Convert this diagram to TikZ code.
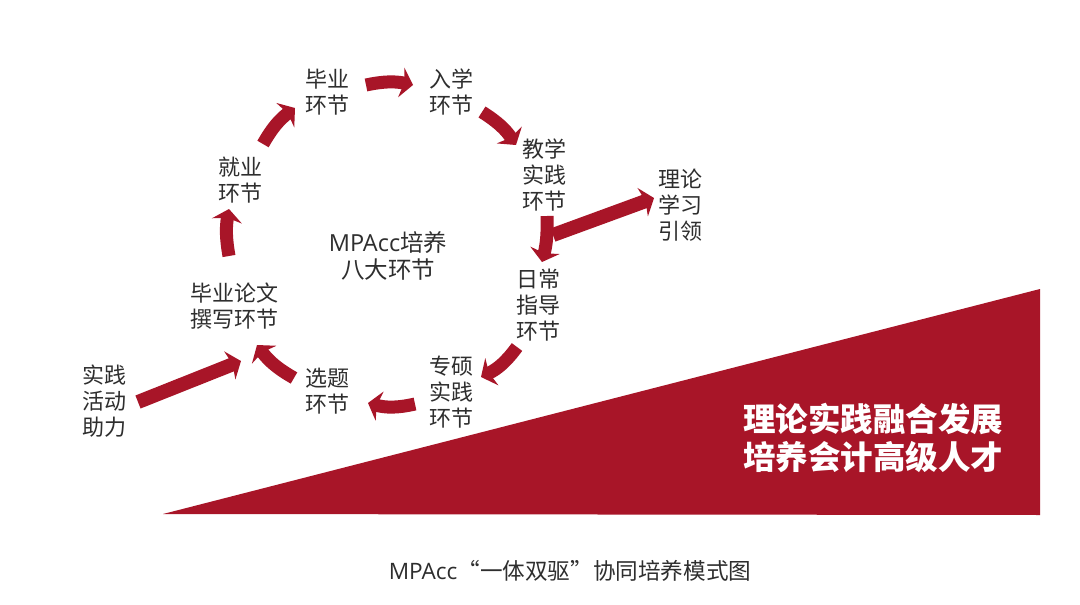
\documentclass[tikz,border=0pt]{standalone}
\usepackage{fontspec}
\setmainfont{Noto Sans CJK SC}
\newfontfamily\latinfont{Open Sans}
\usetikzlibrary{arrows.meta,calc}
\definecolor{brickred}{HTML}{A81528}
\definecolor{inktext}{HTML}{2E2E2E}
\tikzset{
 lbl/.style={align=center,font=\fontsize{22}{26.3}\selectfont,text=inktext,inner sep=0pt},
 flow/.style={draw=brickred,line width=13pt,line cap=butt,-{Stealth[length=12pt,width=30pt,inset=3pt,fill=brickred]}},
}
\begin{document}
\begin{tikzpicture}[x=1pt,y=-1pt]
\useasboundingbox (0,0) rectangle (1080,605);
\fill[white] (0,0) rectangle (1080,605);
\fill[brickred] (163,514) -- (1040,289) -- (1040,515) -- cycle;
\node[lbl] (biye) at (327,92) {毕业\\环节};
\node[lbl] (ruxue) at (451,92) {入学\\环节};
\node[lbl] (jiaoxue) at (544,175) {教学\\实践\\环节};
\node[lbl] (richang) at (538,305) {日常\\指导\\环节};
\node[lbl] (zhuanshuo) at (451,392) {专硕\\实践\\环节};
\node[lbl] (xuanti) at (327,391) {选题\\环节};
\node[lbl] (lunwen) at (234,306) {毕业论文\\撰写环节};
\node[lbl] (jiuye) at (240,180) {就业\\环节};
\node[lbl] (lilun) at (680,205) {理论\\学习\\引领};
\node[lbl] (shijian) at (104,401) {实践\\活动\\助力};
\node[lbl,font=\fontsize{23.5}{26.3}\selectfont] (center) at (388,256) {{\latinfont MPAcc}培养\\八大环节};
\node[align=center,inner sep=0pt,text=white,font=\fontsize{32.5}{38}\selectfont\bfseries] (slogan) at (873,438) {理论实践融合发展\\培养会计高级人才};
\node[inner sep=0pt,text=inktext,font=\fontsize{22.6}{27}\selectfont] (caption) at (570,571) {{\latinfont MPAcc}“一体双驱”协同培养模式图};
\draw[flow] ([shift={(39,-7)}]biye.center) to[bend left=12] ([shift={(-38,-7)}]ruxue.center);
\draw[flow] ([shift={(31,20)}]ruxue.center) to[bend left=12] ([shift={(-28,-30)}]jiaoxue.center);
\draw[flow] ([shift={(3,41)}]jiaoxue.center) to[bend left=8] ([shift={(4,-43)}]richang.center);
\draw[flow] ([shift={(-21,42)}]richang.center) to[bend left=14] ([shift={(30,-15)}]zhuanshuo.center);
\draw[flow] ([shift={(-36,12)}]zhuanshuo.center) to[bend left=14] ([shift={(41,12)}]xuanti.center);
\draw[flow] ([shift={(-33,-13)}]xuanti.center) to[bend left=12] ([shift={(23,39)}]lunwen.center);
\draw[flow] ([shift={(-5,-50)}]lunwen.center) to[bend left=10] ([shift={(-11,29)}]jiuye.center);
\draw[flow] ([shift={(23,-36)}]jiuye.center) to[bend left=12] ([shift={(-32,16)}]biye.center);
\draw[flow,line width=14pt] ([shift={(34,1)}]shijian.center) -- ([shift={(7,55)}]lunwen.center);
\draw[flow,line width=14pt] ([shift={(9,60)}]jiaoxue.center) -- ([shift={(-26,-7)}]lilun.center);
\end{tikzpicture}
\end{document}
